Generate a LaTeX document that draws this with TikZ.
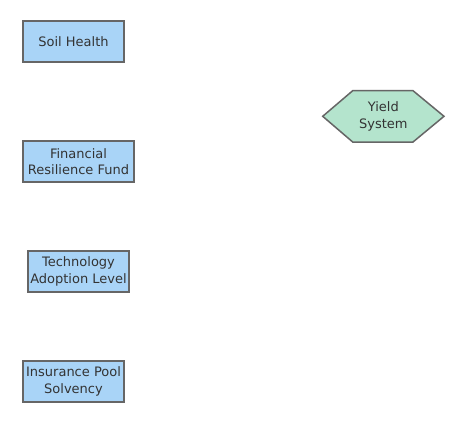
\documentclass[tikz,border=0pt]{standalone}
\usepackage{fontspec}
\setmainfont{DejaVu Sans}
\usetikzlibrary{calc}
\definecolor{boxfill}{HTML}{A9D4F7}
\definecolor{hexfill}{HTML}{B4E4CD}
\definecolor{edge}{HTML}{666666}
\definecolor{txt}{HTML}{333333}
\tikzset{
  pbox/.style={draw=edge, fill=boxfill, line width=1.5pt, inner sep=0pt,
    align=center, text=txt, font=\fontsize{13}{16.5}\selectfont},
  hexshape/.style={draw=edge, fill=hexfill, line width=1.5pt, line join=miter},
  hexlabel/.style={inner sep=0pt, align=center, text=txt, font=\fontsize{13}{16.5}\selectfont}
}
\begin{document}
\begin{tikzpicture}[x=1pt,y=-1pt]
\useasboundingbox[fill=white] (0,0) rectangle (468,424);
\node[pbox, minimum width=101pt, minimum height=41pt] (soil) at (73.5,41.5) {Soil Health};
\node[pbox, minimum width=111pt, minimum height=41pt] (fund) at (78.5,161.5) {Financial\\Resilience Fund};
\node[pbox, minimum width=101pt, minimum height=41pt] (tech) at (78.5,271.5) {Technology\\Adoption Level};
\node[pbox, minimum width=101pt, minimum height=41pt] (ins) at (73.5,381.5) {Insurance Pool\\Solvency};
\coordinate (yc) at (383.3,116.3);
\draw[hexshape] ($(yc)+(-60.6,0)$) -- ($(yc)+(-30.6,-25.6)$) -- ($(yc)+(29.7,-25.6)$) -- ($(yc)+(60.7,0)$) -- ($(yc)+(29.7,25.7)$) -- ($(yc)+(-30.6,25.7)$) -- cycle;
\node[hexlabel] (yield) at (yc) {Yield\\System};
\end{tikzpicture}
\end{document}
